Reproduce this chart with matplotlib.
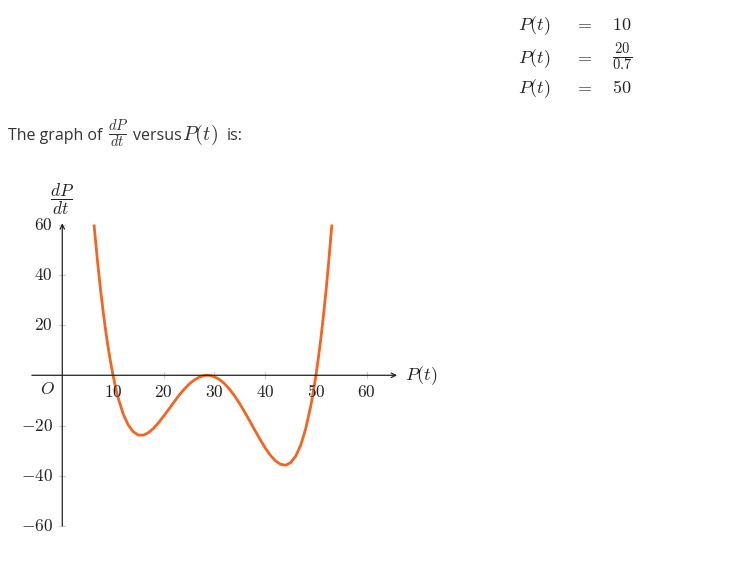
import matplotlib.pyplot as plt

plt.rcParams['mathtext.fontset'] = 'cm'

# ---------------------------
# Dane
# ---------------------------
P_vals = [6.25, 6.5, 7, 7.5, 8, 8.5, 9, 9.5, 10, 10.5, 11, 12, 13, 14, 15, 16, 17, 18,
          19, 20, 21, 22, 23, 24, 25, 26, 27, 28, 28.6, 29, 30, 31, 32, 33, 34, 35,
          36, 37, 38, 39, 40, 41, 42, 43, 44, 45, 46, 47, 48, 49, 49.5, 50, 50.5,
          51, 51.5, 52, 52.5, 53, 53.15]
dPdt_vals = [60.0, 54.7, 44.2, 34.8, 26.2, 18.5, 11.6, 5.4, 0.0, -4.75, -8.9, -15.4,
             -19.8, -22.5, -23.8, -23.8, -22.8, -21.1, -18.8, -16.2, -13.5, -10.7,
             -8.0, -5.6, -3.5, -1.9, -0.7, -0.1, 0.0, -0.05, -0.6, -1.7, -3.4, -5.65,
             -8.3, -11.4, -14.8, -18.4, -22.0, -25.6, -28.9, -31.8, -34.0, -35.4,
             -35.8, -34.8, -32.2, -27.8, -21.1, -12.0, -6.4, 0.0, 7.2, 15.2, 24.1,
             34.0, 44.8, 56.7, 60.0]

x_ticks = [10, 20, 30, 40, 50, 60]
y_ticks = [-60, -40, -20, 20, 40, 60]

eq_lhs = [r'$P(t)$', r'$P(t)$', r'$P(t)$']
eq_rhs = [r'$10$', r'$\frac{20}{0.7}$', r'$50$']

W, H = 743, 566
fig = plt.figure(figsize=(W / 100, H / 100), dpi=100)

# osie w pikselach: x=-8..70, y=-66..72
left_px, right_px = 21.7, 417.4
top_px, bottom_px = 194.4, 541.1
ax = fig.add_axes([left_px / W, 1 - bottom_px / H,
                   (right_px - left_px) / W, (bottom_px - top_px) / H])
ax.set_xlim(-8, 70)
ax.set_ylim(-66, 72)
ax.axis('off')

# osie ze strzałkami
arrow = dict(arrowstyle='->', lw=0.9, color='#222222', mutation_scale=8,
             shrinkA=0, shrinkB=0)
ax.annotate('', xy=(66, 0), xytext=(-6, 0), arrowprops=arrow)
ax.annotate('', xy=(0, 60.5), xytext=(0, -60), arrowprops=arrow)

# znaczniki
for t in x_ticks:
    ax.plot([t, t], [-1.2, 1.2], color='#cccccc', lw=0.8)
    ax.text(t, -6.6, f'${t}$', ha='center', va='center', fontsize=12.5, color='#222222')
for t in y_ticks:
    ax.plot([-0.6, 0.6], [t, t], color='#cccccc', lw=0.8)
    lab = f'${t}$' if t > 0 else rf'$-{abs(t)}$'
    ax.text(-1.9, t, lab, ha='right', va='center', fontsize=12.5, color='#222222')

ax.text(-3.0, -5.4, r'$O$', ha='center', va='center', fontsize=12.5, color='#222222')
ax.text(67.5, 0, r'$P(t)$', ha='left', va='center', fontsize=13, color='#222222')
ax.text(0, 70, r'$\dfrac{dP}{dt}$', ha='center', va='center', fontsize=12.5, color='#222222')

# krzywa
ax.plot(P_vals, dPdt_vals, color='#f26522', lw=2, solid_capstyle='butt')

# tekst nad wykresem (kawałki w pikselach)
yb = 1 - 140 / H
txt = dict(family='Open Sans', fontsize=11.5, color='#333333', va='baseline')
fig.text(8 / W, yb, 'The graph of', **txt)
fig.text(118 / W, 1 - 134 / H, r'$\frac{dP}{dt}$', fontsize=15, color='#333333',
         ha='center', va='center')
fig.text(133 / W, yb, 'versus', **txt)
fig.text(182 / W, yb, r'$P(t)$', fontsize=14.5, color='#333333', va='baseline')
fig.text(227 / W, yb, 'is:', **txt)

rows_y = [30, 63, 93]
for lhs, rhs, yy in zip(eq_lhs, eq_rhs, rows_y):
    fig.text(518 / W, 1 - yy / H, lhs, fontsize=13, color='#222222', va='baseline')
    fig.text(583 / W, 1 - (yy - 1.5) / H, r'$=$', fontsize=13, color='#444444',
             va='baseline', ha='center')
    if 'frac' in rhs:
        fig.text(612 / W, 1 - (yy - 6) / H, rhs, fontsize=15, color='#222222',
                 va='center')
    else:
        fig.text(612 / W, 1 - yy / H, rhs, fontsize=13, color='#222222', va='baseline')

fig.savefig('out.png', dpi=100)
